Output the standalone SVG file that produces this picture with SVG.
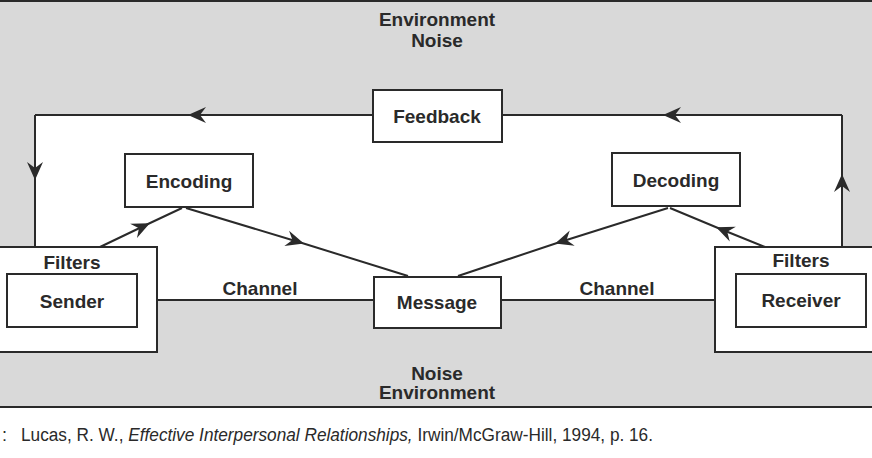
<svg xmlns="http://www.w3.org/2000/svg" width="872" height="458" viewBox="0 0 872 458">
<style>
.b{fill:#fff;stroke:#2a2a2a;stroke-width:2}
.l{fill:none;stroke:#2a2a2a;stroke-width:2}
.t{font-family:"Liberation Sans",Arial,sans-serif;font-weight:bold;font-size:19px;fill:#2a2a2a;text-anchor:middle}
.c{font-family:"Liberation Sans",Arial,sans-serif;font-size:18px;fill:#2a2a2a}
</style>
<defs>
<marker id="a" markerUnits="userSpaceOnUse" markerWidth="24" markerHeight="20" viewBox="-20 -10 24 20" refX="0" refY="0" orient="auto">
<path d="M2,0 L-16,-8 L-10,0 L-16,8 Z" fill="#2a2a2a"/>
</marker>
</defs>
<rect x="0" y="0" width="872" height="408" fill="#d9d9d9"/>
<line x1="0" y1="1" x2="872" y2="1" class="l"/>
<line x1="0" y1="407" x2="872" y2="407" class="l"/>
<path d="M35,115 H842 V247 H715 V300 H157 V247 H35 Z" fill="#fff"/>
<g id="connectors">
<polyline class="l" marker-mid="url(#a)" points="373,115 190,115 35,115"/>
<polyline class="l" marker-mid="url(#a)" points="35,115 35,178 35,247"/>
<polyline class="l" marker-mid="url(#a)" points="842,247 842,176 842,115"/>
<polyline class="l" marker-mid="url(#a)" points="842,115 665,115 502,115"/>
<polyline class="l" marker-mid="url(#a)" points="100,247 148,224 182,208"/>
<polyline class="l" marker-mid="url(#a)" points="186,208 302,243 408,276"/>
<polyline class="l" marker-mid="url(#a)" points="765,247 718,228 670,208"/>
<polyline class="l" marker-mid="url(#a)" points="668,208 557,243 458,276"/>
<line class="l" x1="157" y1="300" x2="374" y2="300"/>
<line class="l" x1="501" y1="300" x2="715" y2="300"/>
<text class="t" x="260" y="295">Channel</text>
<text class="t" x="617" y="295">Channel</text>
</g>
<g id="feedback"><rect class="b" x="373" y="90" width="129" height="52"/><text class="t" x="437" y="123">Feedback</text></g>
<g id="encoding"><rect class="b" x="125" y="154" width="128" height="53"/><text class="t" x="189" y="188">Encoding</text></g>
<g id="decoding"><rect class="b" x="612" y="153" width="128" height="53"/><text class="t" x="676" y="187">Decoding</text></g>
<g id="sender"><rect class="b" x="-2" y="247" width="159" height="105"/><text class="t" x="72" y="269">Filters</text><rect class="b" x="7" y="274" width="130" height="53"/><text class="t" x="72" y="308">Sender</text></g>
<g id="receiver"><rect class="b" x="715" y="247" width="160" height="105"/><text class="t" x="801" y="267">Filters</text><rect class="b" x="736" y="274" width="130" height="53"/><text class="t" x="801" y="307">Receiver</text></g>
<g id="message"><rect class="b" x="374" y="277" width="127" height="51"/><text class="t" x="437" y="309">Message</text></g>
<text class="t" x="437" y="26">Environment</text>
<text class="t" x="437" y="47">Noise</text>
<text class="t" x="437" y="380">Noise</text>
<text class="t" x="437" y="399">Environment</text>
<text class="c" x="2" y="441">:</text>
<text class="c" x="21" y="441" textLength="632" lengthAdjust="spacingAndGlyphs">Lucas, R. W., <tspan font-style="italic">Effective Interpersonal Relationships,</tspan> Irwin/McGraw-Hill, 1994, p. 16.</text>
</svg>
